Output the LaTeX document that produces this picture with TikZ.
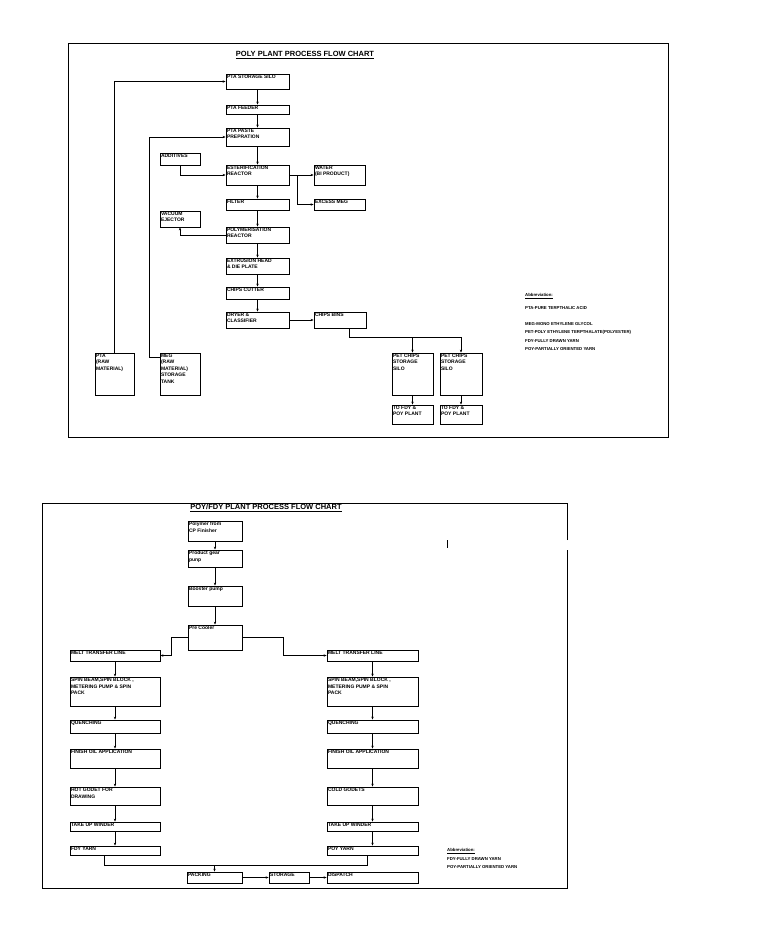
\documentclass[tikz,border=0pt]{standalone}
\usepackage{fontspec}
\setmainfont{Liberation Sans}
\usetikzlibrary{arrows.meta, positioning, calc}

% box from (x1,y1) to (x2,y2), text in the top left corner
\newcommand\pbox[6]{%
  \node[box, minimum width={(#4-#2)*1pt}, minimum height={(#5-#3)*1pt}] (#1) at ({(#2+#4)/2},{(#3+#5)/2}) {};
  \node[lbl, anchor=north west] at (#1.north west) {#6};}

\begin{document}
\begin{tikzpicture}[
    x=1pt, y=-1pt,
    box/.style={rectangle, draw, line width=0.8pt, inner sep=0pt},
    lbl/.style={inner sep=1.2pt, align=left, font=\fontsize{5}{6.5}\selectfont\bfseries},
    ttl/.style={font=\fontsize{7.5}{9}\selectfont\bfseries},
    abbr/.style={anchor=west, inner sep=0pt, font=\fontsize{4.3}{5}\selectfont\bfseries},
    arr/.style={-{Stealth[length=3pt, width=2.4pt]}, line width=0.5pt},
    conn/.style={line width=0.5pt}
]
    \useasboundingbox (0,0) rectangle (768,932);

    % Poly plant
    \draw[line width=0.8pt] (68,43) rectangle (668,437);
    \node[ttl] (title1) at (305,55) {\underline{POLY PLANT PROCESS FLOW CHART}};

    \pbox{silo}{226}{74}{289}{89}{PTA STORAGE SILO}
    \pbox{feeder}{226}{105}{289}{114}{PTA FEEDER}
    \pbox{paste}{226}{128}{289}{146}{PTA PASTE\\PREPRATION}
    \pbox{add}{160}{153}{200}{165}{ADDITIVES}
    \pbox{ester}{226}{165}{289}{185}{ESTERIFICATION\\REACTOR}
    \pbox{water}{314}{165}{365}{185}{WATER\\(BI PRODUCT)}
    \pbox{xmeg}{314}{199}{365}{210}{EXCESS MEG}
    \pbox{filter}{226}{199}{289}{210}{FILTER}
    \pbox{vac}{160}{211}{200}{227}{VACUUM\\EJECTOR}
    \pbox{poly}{226}{227}{289}{243}{POLYMERISATION\\REACTOR}
    \pbox{extr}{226}{258}{289}{274}{EXTRUSION HEAD\\\& DIE PLATE}
    \pbox{cutter}{226}{287}{289}{299}{CHIPS CUTTER}
    \pbox{dryer}{226}{312}{289}{328}{DRYER \&\\CLASSIFIER}
    \pbox{bins}{314}{312}{366}{328}{CHIPS BINS}
    \pbox{pet1}{392}{353}{433}{395}{PET CHIPS\\STORAGE\\SILO}
    \pbox{pet2}{440}{353}{482}{395}{PET CHIPS\\STORAGE\\SILO}
    \pbox{to1}{392}{405}{433}{424}{TO FDY \&\\POY PLANT}
    \pbox{to2}{440}{405}{482}{424}{TO FDY \&\\POY PLANT}
    \pbox{ptaraw}{95}{353}{134}{395}{PTA\\(RAW\\MATERIAL)}
    \pbox{megraw}{160}{353}{200}{395}{MEG\\(RAW\\MATERIAL)\\STORAGE\\TANK}

    \draw[arr] (silo) -- (feeder);
    \draw[arr] (feeder) -- (paste);
    \draw[arr] (paste) -- (ester);
    \draw[arr] (ester) -- (filter);
    \draw[arr] (filter) -- (poly);
    \draw[arr] (poly) -- (extr);
    \draw[arr] (extr) -- (cutter);
    \draw[arr] (cutter) -- (dryer);
    \draw[arr] (dryer) -- (bins);
    \draw[arr] (add.south) |- (ester.west);
    \draw[conn] (ester.east) -- ++(8,0) coordinate (esj);
    \draw[arr] (esj) -- (water.west);
    \draw[arr] (esj) |- (xmeg.west);
    \draw[arr] (poly.west) -| (vac.south);
    \draw[arr] (ptaraw.north) |- (silo.west);
    \draw[arr] ([yshift=-5pt]megraw.north west) -- ++(-10,0) |- (paste.west);
    \draw[arr] ([xshift=9pt]bins.south) -- ++(0,9) -| (pet2.north);
    \draw[arr] (pet1.north |- 0,337) -- (pet1.north);
    \draw[arr] (pet1) -- (to1);
    \draw[arr] (pet2) -- (to2);

    \node[abbr] (ab1) at (525,296) {\underline{Abbreviation:}};
    \node[abbr] (ab2) at (525,308) {PTA-PURE TERPTHALIC ACID};
    \node[abbr] (ab3) at (525,324) {MEG-MONO ETHYLENE GLYCOL};
    \node[abbr] (ab4) at (525,332) {PET-POLY ETHYLENE TERPTHALATE(POLYESTER)};
    \node[abbr] (ab5) at (525,341) {FDY-FULLY DRAWN YARN};
    \node[abbr] (ab6) at (525,349) {POY-PARTIALLY ORIENTED YARN};

    % POY/FDY plant
    \draw[line width=0.8pt] (567,540) -- (567,503) -- (42,503) -- (42,888) -- (567,888) -- (567,550);
    \draw[line width=0.6pt] (447,540) -- (447,548);
    \node[ttl] (title2) at (266,508) {\underline{POY/FDY PLANT PROCESS FLOW CHART}};

    \pbox{cpf}{188}{521}{242}{541}{Polymer from\\CP Finisher}
    \pbox{gear}{188}{550}{242}{567}{Product gear\\punp}
    \pbox{boost}{188}{586}{242}{606}{Booster pump}
    \pbox{pre}{188}{625}{242}{650}{Pre Cooler}
    \pbox{meltl}{70}{650}{160}{661}{MELT TRANSFER LINE}
    \pbox{meltr}{327}{650}{418}{661}{MELT TRANSFER LINE}
    \pbox{spinl}{70}{677}{160}{706}{SPIN BEAM,SPIN BLOCK ,\\METERING PUMP \& SPIN\\PACK}
    \pbox{spinr}{327}{677}{418}{706}{SPIN BEAM,SPIN BLOCK ,\\METERING PUMP \& SPIN\\PACK}
    \pbox{quenl}{70}{720}{160}{733}{QUENCHING}
    \pbox{quenr}{327}{720}{418}{733}{QUENCHING}
    \pbox{oill}{70}{749}{160}{768}{FINISH OIL APPLICATION}
    \pbox{oilr}{327}{749}{418}{768}{FINISH OIL APPLICATION}
    \pbox{hot}{70}{787}{160}{805}{HOT GODET FOR\\DRAWING}
    \pbox{cold}{327}{787}{418}{805}{COLD GODETS}
    \pbox{windl}{70}{822}{160}{831}{TAKE UP WINDER}
    \pbox{windr}{327}{822}{418}{831}{TAKE UP WINDER}
    \pbox{fdy}{70}{846}{160}{855}{FDY YARN}
    \pbox{poy}{327}{846}{418}{855}{POY YARN}
    \pbox{pack}{187}{872}{242}{883}{PACKING}
    \pbox{store}{269}{872}{309}{883}{STORAGE}
    \pbox{disp}{327}{872}{418}{883}{DISPATCH}

    \draw[arr] (cpf) -- (gear);
    \draw[arr] (gear) -- (boost);
    \draw[arr] (boost) -- (pre);
    \draw[arr] (pre.west) -- ++(-16,0) |- (meltl.east);
    \draw[arr] (pre.east) -- ++(41,0) |- (meltr.west);
    \foreach \a/\b in {meltl/spinl, spinl/quenl, quenl/oill, oill/hot, hot/windl, windl/fdy,
                       meltr/spinr, spinr/quenr, quenr/oilr, oilr/cold, cold/windr, windr/poy}
        \draw[arr] (\a) -- (\b);
    \draw[conn] ([xshift=-11pt]fdy.south) -- ++(0,10) -| ([xshift=-5pt]poy.south);
    \draw[arr] (pack.north |- 0,865) -- (pack.north);
    \draw[arr] (pack) -- (store);
    \draw[arr] (store) -- (disp);

    \node[abbr] (ab7) at (447,851) {\underline{Abbreviation:}};
    \node[abbr] (ab8) at (447,859) {FDY-FULLY DRAWN YARN};
    \node[abbr] (ab9) at (447,867) {POY-PARTIALLY ORIENTED YARN};
\end{tikzpicture}
\end{document}
